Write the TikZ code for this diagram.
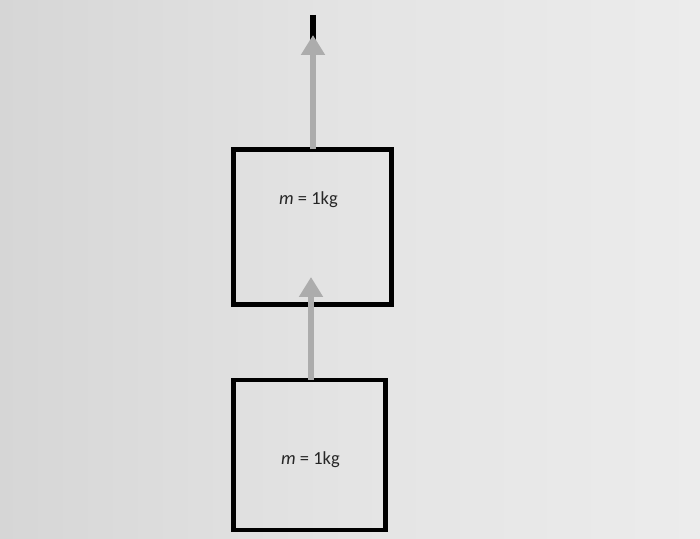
\documentclass[tikz,border=0pt]{standalone}
\usepackage{fontspec}
\setmainfont{Carlito}
\usetikzlibrary{arrows.meta}
\definecolor{screen}{RGB}{228,228,228}
\definecolor{screenl}{RGB}{214,214,214}
\definecolor{screenr}{RGB}{236,236,236}
\definecolor{pull}{RGB}{172,172,172}
\tikzset{
    mass/.style={draw=black, line width=2.8pt, fill=none, inner sep=0pt, outer sep=0pt},
    tag/.style={font=\fontsize{10.5}{12}\selectfont, text=black!85},
    force/.style={draw=pull, line width=3pt, -{Triangle[length=4mm, width=4.6mm]}}
}
\begin{document}
\begin{tikzpicture}

            % the frame
            \shade[left color=screenl, right color=screenr, middle color=screen] (0, 0) rectangle (14, 10.78);
            \useasboundingbox (0, 0) rectangle (14, 10.78);

            % the masses
            \node[mass, minimum width=3.15cm, minimum height=3.1cm] (upper) at (6.25, 6.24) {};
            \node[mass, minimum width=3.05cm, minimum height=3.0cm] (lower) at (6.19, 1.68) {};
            \node[tag] (uppertag) at ([xshift=-0.08cm, yshift=0.54cm]upper.center) {\textit{m} = 1kg};
            \node[tag] (lowertag) at ([xshift=0.02cm, yshift=-0.1cm]lower.center) {\textit{m} = 1kg};

            % the rope
            \coordinate (rope) at (6.26, 10.48);
            \coordinate (tipa) at (6.26, 10.08);
            \coordinate (tipb) at (6.22, 5.24);
            \draw[line width=3.4pt] (rope) -- ([yshift=-1mm]tipa);

            % the forces
            \draw[force] (upper.north -| tipa) -- (tipa);
            \draw[force] (lower.north -| tipb) -- (tipb);
        \end{tikzpicture}
\end{document}
